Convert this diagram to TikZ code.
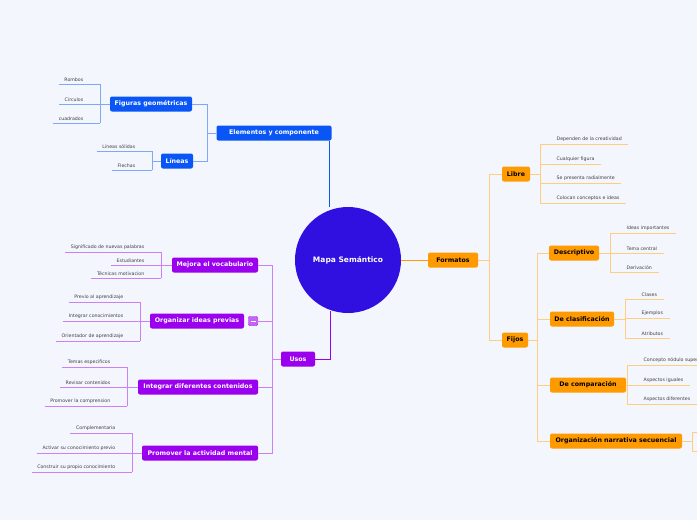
\documentclass[tikz,border=0pt]{standalone}
\usepackage{fontspec}
\setmainfont{DejaVu Sans}
\definecolor{bg}{HTML}{F4F6FE}
\definecolor{cblue}{HTML}{0A55F5}
\definecolor{lblue}{HTML}{80A8FA}
\definecolor{cpur}{HTML}{9B00EE}
\definecolor{lpur}{HTML}{CC80F5}
\definecolor{cora}{HTML}{FF9A00}
\definecolor{lora}{HTML}{FFCC80}
\definecolor{ccirc}{HTML}{3010E0}
\tikzset{
 mnode/.style={rounded corners=2pt,text=white,font=\bfseries\fontsize{6.3}{7}\selectfont,minimum height=15pt,inner xsep=3pt,inner ysep=0pt},
 bnode/.style={mnode,fill=cblue},
 pnode/.style={mnode,fill=cpur},
 onode/.style={mnode,fill=cora,text=black},
 leaf/.style={font=\fontsize{4.7}{5}\selectfont,text=black!75,inner sep=0.5pt},
}
\newcommand{\leafL}[5]{% name, trunkx, underline y, text, color
 \node[leaf,anchor=south east] (#1) at (#2-16,#3-1.5) {#4};
 \coordinate (#1u) at (#2,#3);
 \draw[#5,line width=0.7pt] ([xshift=-5pt]#1.west |- #1u) -- (#1u);}
\newcommand{\leafR}[5]{%
 \node[leaf,anchor=south west] (#1) at (#2+16,#3-1.5) {#4};
 \coordinate (#1u) at (#2,#3);
 \draw[#5,line width=0.7pt] (#1u) -- ([xshift=6pt]#1.east |- #1u);}
\begin{document}
\begin{tikzpicture}[x=1pt,y=-1pt]
\fill[bg] (0,0) rectangle (697,520);
\clip (0,0) rectangle (697,520);
\node[circle,fill=ccirc,minimum size=106pt,inner sep=0,text=white,font=\bfseries\fontsize{7.5}{8}\selectfont] (c) at (348,260) {Mapa Semántico};
% blue
\node[bnode,minimum width=115pt] (el) at (274,133) {Elementos y componente};
\node[bnode,minimum width=82pt] (fg) at (151,104) {Figuras geométricas};
\node[bnode,minimum width=32pt] (li) at (177,161) {Líneas};
\draw[cblue,line width=0.8pt] (el.south east)++(-2,0) coordinate (e1) -- (c.north -| e1);
\draw[lblue,line width=0.7pt] (el.west) -- (207,133) |- (fg.east);
\draw[lblue,line width=0.7pt] (207,133) |- (li.east);
\draw[lblue,line width=0.7pt] (fg.west) -- (100,104);
\draw[lblue,line width=0.7pt] (li.west) -- (152,161);
\leafL{a1}{100}{84}{Rombos}{lblue}
\leafL{a2}{100}{104}{Circulos}{lblue}
\leafL{a3}{100}{123}{cuadrados}{lblue}
\draw[lblue,line width=0.7pt] (100,84) -- (100,123);
\leafL{a4}{152}{151}{Líneas sólidas}{lblue}
\leafL{a5}{152}{170}{Flechas}{lblue}
\draw[lblue,line width=0.7pt] (152,151) -- (152,170);
% purple
\node[pnode,minimum width=34pt] (us) at (298,359) {Usos};
\draw[cpur,line width=0.8pt] (c.south -| 330,0) ++(0,0) coordinate (p0);
\draw[cpur,line width=0.8pt] (330,311) -- (330,359) -- (us.east);
\node[pnode,minimum width=86pt] (mv) at (215,265) {Mejora el vocabulario};
\node[pnode,minimum width=94pt] (oi) at (197,321) {Organizar ideas previas};
\node[draw=cpur,fill=cpur!60,rounded corners=1pt,minimum size=9pt,inner sep=0] (ic) at (253,321) {};
\draw[white,line width=0.5pt] ([xshift=-2.5pt]ic.center) -- ([xshift=2.5pt]ic.center);
\node[pnode,minimum width=120pt] (id) at (198,387) {Integrar diferentes contenidos};
\node[pnode,minimum width=116pt] (pa) at (200,453) {Promover la actividad mental};
\draw[lpur,line width=0.7pt] (us.west) -- (272,359);
\draw[lpur,line width=0.7pt] (mv.east) -- (272,265) -- (272,453) -- (pa.east);
\draw[lpur,line width=0.7pt] (ic.east) -- (272,321);
\draw[lpur,line width=0.7pt] (id.east) -- (272,387);
\draw[lpur,line width=0.7pt] (mv.west) -- (161,265);
\draw[lpur,line width=0.7pt] (oi.west) -- (140,321);
\draw[lpur,line width=0.7pt] (id.west) -- (127,387);
\draw[lpur,line width=0.7pt] (pa.west) -- (132,453);
\leafL{b1}{161}{252}{Significado de nuevas palabras}{lpur}
\leafL{b2}{161}{265}{Estudiantes}{lpur}
\leafL{b3}{161}{278}{Técnicas motivacion}{lpur}
\draw[lpur,line width=0.7pt] (161,252) -- (161,278);
\leafL{b4}{140}{302}{Previo al aprendizaje}{lpur}
\leafL{b5}{140}{321}{Integrar conocimientos}{lpur}
\leafL{b6}{140}{341}{Orientador de aprendizaje}{lpur}
\draw[lpur,line width=0.7pt] (140,302) -- (140,341);
\leafL{b7}{127}{367}{Temas especificos}{lpur}
\leafL{b8}{127}{387}{Revisar contenidos}{lpur}
\leafL{b9}{127}{406}{Promover la comprension}{lpur}
\draw[lpur,line width=0.7pt] (127,367) -- (127,406);
\leafL{b10}{132}{433}{Complementaria}{lpur}
\leafL{b11}{132}{453}{Activar su conocimiento previo}{lpur}
\leafL{b12}{132}{472}{Construir su propio conocimiento}{lpur}
\draw[lpur,line width=0.7pt] (132,433) -- (132,472);
% orange
\node[onode,minimum width=50pt] (fo) at (453,260) {Formatos};
\draw[cora,line width=0.8pt] (c.east) -- (fo.west);
\node[onode,minimum width=28pt] (lb) at (516,174) {Libre};
\node[onode,minimum width=26pt] (fj) at (515,340) {Fijos};
\draw[lora,line width=0.7pt] (fo.east) -- (489,260);
\draw[lora,line width=0.7pt] (lb.west) -- (489,174) -- (489,340) -- (fj.west);
\draw[lora,line width=0.7pt] (lb.east) -- (540,174);
\leafR{c1}{540}{144}{Dependen de la creatividad}{lora}
\leafR{c2}{540}{164}{Cualquier figura}{lora}
\leafR{c3}{540}{183}{Se presenta radialmente}{lora}
\leafR{c4}{540}{203}{Colocan conceptos e ideas}{lora}
\draw[lora,line width=0.7pt] (540,144) -- (540,203);
\node[onode,minimum width=50pt] (de) at (574,253) {Descriptivo};
\node[onode,minimum width=64pt] (dc) at (582,319) {De clasificación};
\node[onode,minimum width=76pt] (dp) at (588,385) {De comparación};
\node[onode,minimum width=132pt] (on) at (616,441) {Organización narrativa secuencial};
\draw[lora,line width=0.7pt] (fj.east) -- (537,340);
\draw[lora,line width=0.7pt] (de.west) -- (537,253) -- (537,441) -- (on.west);
\draw[lora,line width=0.7pt] (dc.west) -- (537,319);
\draw[lora,line width=0.7pt] (dp.west) -- (537,385);
\draw[lora,line width=0.7pt] (de.east) -- (610,253);
\draw[lora,line width=0.7pt] (dc.east) -- (625,319);
\draw[lora,line width=0.7pt] (dp.east) -- (627,385);
\leafR{d1}{610}{233}{Ideas importantes}{lora}
\leafR{d2}{610}{253}{Tema central}{lora}
\leafR{d3}{610}{272}{Derivación}{lora}
\draw[lora,line width=0.7pt] (610,233) -- (610,272);
\leafR{d4}{625}{299}{Clases}{lora}
\leafR{d5}{625}{318}{Ejemplos}{lora}
\leafR{d6}{625}{338}{Atributos}{lora}
\draw[lora,line width=0.7pt] (625,299) -- (625,338);
\leafR{d7}{627}{365}{Concepto nódulo superior}{lora}
\leafR{d8}{627}{385}{Aspectos iguales}{lora}
\leafR{d9}{627}{404}{Aspectos diferentes}{lora}
\draw[lora,line width=0.7pt] (627,365) -- (627,404);
\coordinate (n1) at (697,432);
\coordinate (n2) at (697,451);
\draw[lora,line width=0.7pt] (on.east) -- (692,441);
\draw[lora,line width=0.7pt] (n1) -- (692,432) -- (692,451) -- (n2);
\end{tikzpicture}
\end{document}
